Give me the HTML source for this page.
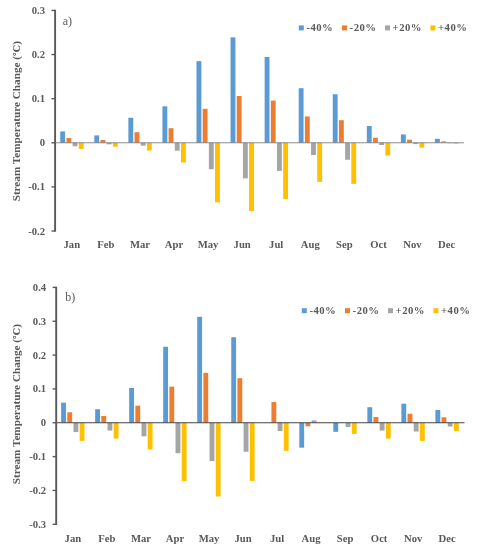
<!DOCTYPE html>
<html><head><meta charset="utf-8"><title>Stream Temperature Change</title>
<style>html,body{margin:0;padding:0;background:#fff;}svg{display:block;}</style></head>
<body>
<svg width="478" height="550" viewBox="0 0 478 550">
<rect width="478" height="550" fill="#ffffff"/>
<g id="chart-a">
<rect x="60.23" y="131.40" width="4.87" height="11.38" fill="#5B9BD5"/>
<rect x="66.41" y="138.06" width="4.87" height="4.72" fill="#ED7D31"/>
<rect x="72.59" y="142.78" width="4.87" height="3.48" fill="#A5A5A5"/>
<rect x="78.77" y="142.78" width="4.87" height="6.09" fill="#FFC000"/>
<rect x="94.30" y="135.37" width="4.87" height="7.41" fill="#5B9BD5"/>
<rect x="100.48" y="139.91" width="4.87" height="2.87" fill="#ED7D31"/>
<rect x="106.66" y="142.78" width="4.87" height="1.54" fill="#A5A5A5"/>
<rect x="112.84" y="142.78" width="4.87" height="3.97" fill="#FFC000"/>
<rect x="128.36" y="117.77" width="4.87" height="25.01" fill="#5B9BD5"/>
<rect x="134.54" y="132.19" width="4.87" height="10.59" fill="#ED7D31"/>
<rect x="140.72" y="142.78" width="4.87" height="2.91" fill="#A5A5A5"/>
<rect x="146.90" y="142.78" width="4.87" height="7.72" fill="#FFC000"/>
<rect x="162.43" y="106.30" width="4.87" height="36.48" fill="#5B9BD5"/>
<rect x="168.61" y="128.22" width="4.87" height="14.56" fill="#ED7D31"/>
<rect x="174.79" y="142.78" width="4.87" height="7.94" fill="#A5A5A5"/>
<rect x="180.97" y="142.78" width="4.87" height="19.72" fill="#FFC000"/>
<rect x="196.50" y="61.18" width="4.87" height="81.60" fill="#5B9BD5"/>
<rect x="202.68" y="108.82" width="4.87" height="33.96" fill="#ED7D31"/>
<rect x="208.86" y="142.78" width="4.87" height="26.47" fill="#A5A5A5"/>
<rect x="215.04" y="142.78" width="4.87" height="59.55" fill="#FFC000"/>
<rect x="230.56" y="37.36" width="4.87" height="105.42" fill="#5B9BD5"/>
<rect x="236.74" y="96.02" width="4.87" height="46.76" fill="#ED7D31"/>
<rect x="242.92" y="142.78" width="4.87" height="35.60" fill="#A5A5A5"/>
<rect x="249.10" y="142.78" width="4.87" height="68.37" fill="#FFC000"/>
<rect x="264.63" y="56.99" width="4.87" height="85.79" fill="#5B9BD5"/>
<rect x="270.81" y="100.57" width="4.87" height="42.21" fill="#ED7D31"/>
<rect x="276.99" y="142.78" width="4.87" height="28.10" fill="#A5A5A5"/>
<rect x="283.17" y="142.78" width="4.87" height="56.20" fill="#FFC000"/>
<rect x="298.70" y="88.22" width="4.87" height="54.56" fill="#5B9BD5"/>
<rect x="304.88" y="116.45" width="4.87" height="26.33" fill="#ED7D31"/>
<rect x="311.06" y="142.78" width="4.87" height="12.22" fill="#A5A5A5"/>
<rect x="317.24" y="142.78" width="4.87" height="39.08" fill="#FFC000"/>
<rect x="332.76" y="94.26" width="4.87" height="48.52" fill="#5B9BD5"/>
<rect x="338.94" y="120.20" width="4.87" height="22.58" fill="#ED7D31"/>
<rect x="345.12" y="142.78" width="4.87" height="16.98" fill="#A5A5A5"/>
<rect x="351.30" y="142.78" width="4.87" height="41.11" fill="#FFC000"/>
<rect x="366.83" y="126.02" width="4.87" height="16.76" fill="#5B9BD5"/>
<rect x="373.01" y="137.71" width="4.87" height="5.07" fill="#ED7D31"/>
<rect x="379.19" y="142.78" width="4.87" height="2.21" fill="#A5A5A5"/>
<rect x="385.37" y="142.78" width="4.87" height="12.79" fill="#FFC000"/>
<rect x="400.90" y="134.40" width="4.87" height="8.38" fill="#5B9BD5"/>
<rect x="407.08" y="139.69" width="4.87" height="3.09" fill="#ED7D31"/>
<rect x="413.26" y="142.78" width="4.87" height="1.32" fill="#A5A5A5"/>
<rect x="419.44" y="142.78" width="4.87" height="4.85" fill="#FFC000"/>
<rect x="434.96" y="138.81" width="4.87" height="3.97" fill="#5B9BD5"/>
<rect x="441.14" y="141.46" width="4.87" height="1.32" fill="#ED7D31"/>
<rect x="447.32" y="142.78" width="4.87" height="0.44" fill="#A5A5A5"/>
<rect x="453.50" y="142.78" width="4.87" height="0.88" fill="#FFC000"/>
<line x1="55.10" y1="142.78" x2="463.90" y2="142.78" stroke="#7f7f7f" stroke-width="0.9"/>
<line x1="55.10" y1="9.75" x2="55.10" y2="231.70" stroke="#595959" stroke-width="1.9"/>
<line x1="51.50" y1="10.45" x2="55.10" y2="10.45" stroke="#595959" stroke-width="1.4"/>
<text x="45.10" y="13.95" text-anchor="end" font-family="Liberation Serif, DejaVu Serif, Noto Serif CJK SC, serif" font-weight="bold" font-size="10.67" fill="#595959">0.3</text>
<line x1="51.50" y1="54.56" x2="55.10" y2="54.56" stroke="#595959" stroke-width="1.4"/>
<text x="45.10" y="58.06" text-anchor="end" font-family="Liberation Serif, DejaVu Serif, Noto Serif CJK SC, serif" font-weight="bold" font-size="10.67" fill="#595959">0.2</text>
<line x1="51.50" y1="98.67" x2="55.10" y2="98.67" stroke="#595959" stroke-width="1.4"/>
<text x="45.10" y="102.17" text-anchor="end" font-family="Liberation Serif, DejaVu Serif, Noto Serif CJK SC, serif" font-weight="bold" font-size="10.67" fill="#595959">0.1</text>
<line x1="51.50" y1="142.78" x2="55.10" y2="142.78" stroke="#595959" stroke-width="1.4"/>
<text x="45.10" y="146.28" text-anchor="end" font-family="Liberation Serif, DejaVu Serif, Noto Serif CJK SC, serif" font-weight="bold" font-size="10.67" fill="#595959">0</text>
<line x1="51.50" y1="186.89" x2="55.10" y2="186.89" stroke="#595959" stroke-width="1.4"/>
<text x="45.10" y="190.39" text-anchor="end" font-family="Liberation Serif, DejaVu Serif, Noto Serif CJK SC, serif" font-weight="bold" font-size="10.67" fill="#595959">-0.1</text>
<line x1="51.50" y1="231.00" x2="55.10" y2="231.00" stroke="#595959" stroke-width="1.4"/>
<text x="45.10" y="234.50" text-anchor="end" font-family="Liberation Serif, DejaVu Serif, Noto Serif CJK SC, serif" font-weight="bold" font-size="10.67" fill="#595959">-0.2</text>
<text x="71.83" y="247.60" text-anchor="middle" font-family="Liberation Serif, DejaVu Serif, Noto Serif CJK SC, serif" font-weight="bold" font-size="10.67" fill="#595959">Jan</text>
<text x="105.90" y="247.60" text-anchor="middle" font-family="Liberation Serif, DejaVu Serif, Noto Serif CJK SC, serif" font-weight="bold" font-size="10.67" fill="#595959">Feb</text>
<text x="139.97" y="247.60" text-anchor="middle" font-family="Liberation Serif, DejaVu Serif, Noto Serif CJK SC, serif" font-weight="bold" font-size="10.67" fill="#595959">Mar</text>
<text x="174.03" y="247.60" text-anchor="middle" font-family="Liberation Serif, DejaVu Serif, Noto Serif CJK SC, serif" font-weight="bold" font-size="10.67" fill="#595959">Apr</text>
<text x="208.10" y="247.60" text-anchor="middle" font-family="Liberation Serif, DejaVu Serif, Noto Serif CJK SC, serif" font-weight="bold" font-size="10.67" fill="#595959">May</text>
<text x="242.17" y="247.60" text-anchor="middle" font-family="Liberation Serif, DejaVu Serif, Noto Serif CJK SC, serif" font-weight="bold" font-size="10.67" fill="#595959">Jun</text>
<text x="276.23" y="247.60" text-anchor="middle" font-family="Liberation Serif, DejaVu Serif, Noto Serif CJK SC, serif" font-weight="bold" font-size="10.67" fill="#595959">Jul</text>
<text x="310.30" y="247.60" text-anchor="middle" font-family="Liberation Serif, DejaVu Serif, Noto Serif CJK SC, serif" font-weight="bold" font-size="10.67" fill="#595959">Aug</text>
<text x="344.37" y="247.60" text-anchor="middle" font-family="Liberation Serif, DejaVu Serif, Noto Serif CJK SC, serif" font-weight="bold" font-size="10.67" fill="#595959">Sep</text>
<text x="378.43" y="247.60" text-anchor="middle" font-family="Liberation Serif, DejaVu Serif, Noto Serif CJK SC, serif" font-weight="bold" font-size="10.67" fill="#595959">Oct</text>
<text x="412.50" y="247.60" text-anchor="middle" font-family="Liberation Serif, DejaVu Serif, Noto Serif CJK SC, serif" font-weight="bold" font-size="10.67" fill="#595959">Nov</text>
<text x="446.57" y="247.60" text-anchor="middle" font-family="Liberation Serif, DejaVu Serif, Noto Serif CJK SC, serif" font-weight="bold" font-size="10.67" fill="#595959">Dec</text>
<text transform="translate(19.7,121.20) rotate(-90)" text-anchor="middle" font-family="Liberation Serif, DejaVu Serif, Noto Serif CJK SC, serif" font-weight="bold" font-size="11.2" fill="#595959">Stream Temperature Change (<tspan font-size="9.4">℃</tspan>)</text>
<text x="62.8" y="25.4" font-family="Liberation Serif, serif" font-size="12" fill="#595959">a)</text>
<rect x="298.80" y="25.40" width="5" height="5" fill="#5B9BD5"/>
<text x="306.40" y="31.40" letter-spacing="0.5" font-family="Liberation Serif, DejaVu Serif, Noto Serif CJK SC, serif" font-weight="bold" font-size="10.67" fill="#595959">-40%</text>
<rect x="342.00" y="25.40" width="5" height="5" fill="#ED7D31"/>
<text x="349.60" y="31.40" letter-spacing="0.5" font-family="Liberation Serif, DejaVu Serif, Noto Serif CJK SC, serif" font-weight="bold" font-size="10.67" fill="#595959">-20%</text>
<rect x="385.00" y="25.40" width="5" height="5" fill="#A5A5A5"/>
<text x="392.60" y="31.40" letter-spacing="0.5" font-family="Liberation Serif, DejaVu Serif, Noto Serif CJK SC, serif" font-weight="bold" font-size="10.67" fill="#595959">+20%</text>
<rect x="430.40" y="25.40" width="5" height="5" fill="#FFC000"/>
<text x="438.00" y="31.40" letter-spacing="0.5" font-family="Liberation Serif, DejaVu Serif, Noto Serif CJK SC, serif" font-weight="bold" font-size="10.67" fill="#595959">+40%</text>
</g>
<g id="chart-b">
<rect x="61.12" y="402.67" width="4.86" height="20.10" fill="#5B9BD5"/>
<rect x="67.30" y="412.28" width="4.86" height="10.49" fill="#ED7D31"/>
<rect x="73.47" y="422.77" width="4.86" height="9.31" fill="#A5A5A5"/>
<rect x="79.64" y="422.77" width="4.86" height="18.11" fill="#FFC000"/>
<rect x="95.15" y="409.23" width="4.86" height="13.54" fill="#5B9BD5"/>
<rect x="101.32" y="416.00" width="4.86" height="6.77" fill="#ED7D31"/>
<rect x="107.49" y="422.77" width="4.86" height="7.78" fill="#A5A5A5"/>
<rect x="113.67" y="422.77" width="4.86" height="15.80" fill="#FFC000"/>
<rect x="129.17" y="387.91" width="4.86" height="34.86" fill="#5B9BD5"/>
<rect x="135.35" y="405.68" width="4.86" height="17.09" fill="#ED7D31"/>
<rect x="141.52" y="422.77" width="4.86" height="13.54" fill="#A5A5A5"/>
<rect x="147.69" y="422.77" width="4.86" height="26.74" fill="#FFC000"/>
<rect x="163.20" y="346.76" width="4.86" height="76.01" fill="#5B9BD5"/>
<rect x="169.37" y="386.66" width="4.86" height="36.11" fill="#ED7D31"/>
<rect x="175.54" y="422.77" width="4.86" height="30.46" fill="#A5A5A5"/>
<rect x="181.72" y="422.77" width="4.86" height="58.41" fill="#FFC000"/>
<rect x="197.22" y="316.84" width="4.86" height="105.93" fill="#5B9BD5"/>
<rect x="203.40" y="372.85" width="4.86" height="49.92" fill="#ED7D31"/>
<rect x="209.57" y="422.77" width="4.86" height="38.31" fill="#A5A5A5"/>
<rect x="215.74" y="422.77" width="4.86" height="73.71" fill="#FFC000"/>
<rect x="231.25" y="337.25" width="4.86" height="85.52" fill="#5B9BD5"/>
<rect x="237.42" y="378.17" width="4.86" height="44.60" fill="#ED7D31"/>
<rect x="243.59" y="422.77" width="4.86" height="29.00" fill="#A5A5A5"/>
<rect x="249.77" y="422.77" width="4.86" height="58.11" fill="#FFC000"/>
<rect x="271.45" y="401.96" width="4.86" height="20.81" fill="#ED7D31"/>
<rect x="277.62" y="422.77" width="4.86" height="8.29" fill="#A5A5A5"/>
<rect x="283.79" y="422.77" width="4.86" height="28.09" fill="#FFC000"/>
<rect x="299.30" y="422.77" width="4.86" height="24.91" fill="#5B9BD5"/>
<rect x="305.47" y="422.77" width="4.86" height="3.52" fill="#ED7D31"/>
<rect x="311.64" y="420.40" width="4.86" height="2.37" fill="#A5A5A5"/>
<rect x="317.82" y="422.43" width="4.86" height="0.34" fill="#FFC000"/>
<rect x="333.32" y="422.77" width="4.86" height="9.07" fill="#5B9BD5"/>
<rect x="345.67" y="422.77" width="4.86" height="4.30" fill="#A5A5A5"/>
<rect x="351.84" y="422.77" width="4.86" height="11.07" fill="#FFC000"/>
<rect x="367.35" y="407.24" width="4.86" height="15.53" fill="#5B9BD5"/>
<rect x="373.52" y="417.02" width="4.86" height="5.75" fill="#ED7D31"/>
<rect x="379.69" y="422.77" width="4.86" height="7.78" fill="#A5A5A5"/>
<rect x="385.87" y="422.77" width="4.86" height="15.80" fill="#FFC000"/>
<rect x="401.37" y="403.68" width="4.86" height="19.09" fill="#5B9BD5"/>
<rect x="407.55" y="413.74" width="4.86" height="9.04" fill="#ED7D31"/>
<rect x="413.72" y="422.77" width="4.86" height="8.80" fill="#A5A5A5"/>
<rect x="419.89" y="422.77" width="4.86" height="18.11" fill="#FFC000"/>
<rect x="435.40" y="409.98" width="4.86" height="12.79" fill="#5B9BD5"/>
<rect x="441.57" y="417.26" width="4.86" height="5.52" fill="#ED7D31"/>
<rect x="447.74" y="422.77" width="4.86" height="3.79" fill="#A5A5A5"/>
<rect x="453.92" y="422.77" width="4.86" height="8.29" fill="#FFC000"/>
<line x1="56.20" y1="422.77" x2="464.50" y2="422.77" stroke="#454545" stroke-width="1.1"/>
<line x1="56.20" y1="286.70" x2="56.20" y2="525.00" stroke="#595959" stroke-width="1.9"/>
<line x1="52.60" y1="287.40" x2="56.20" y2="287.40" stroke="#595959" stroke-width="1.4"/>
<text x="46.20" y="290.90" text-anchor="end" font-family="Liberation Serif, DejaVu Serif, Noto Serif CJK SC, serif" font-weight="bold" font-size="10.67" fill="#595959">0.4</text>
<line x1="52.60" y1="321.24" x2="56.20" y2="321.24" stroke="#595959" stroke-width="1.4"/>
<text x="46.20" y="324.74" text-anchor="end" font-family="Liberation Serif, DejaVu Serif, Noto Serif CJK SC, serif" font-weight="bold" font-size="10.67" fill="#595959">0.3</text>
<line x1="52.60" y1="355.09" x2="56.20" y2="355.09" stroke="#595959" stroke-width="1.4"/>
<text x="46.20" y="358.59" text-anchor="end" font-family="Liberation Serif, DejaVu Serif, Noto Serif CJK SC, serif" font-weight="bold" font-size="10.67" fill="#595959">0.2</text>
<line x1="52.60" y1="388.93" x2="56.20" y2="388.93" stroke="#595959" stroke-width="1.4"/>
<text x="46.20" y="392.43" text-anchor="end" font-family="Liberation Serif, DejaVu Serif, Noto Serif CJK SC, serif" font-weight="bold" font-size="10.67" fill="#595959">0.1</text>
<line x1="52.60" y1="422.77" x2="56.20" y2="422.77" stroke="#595959" stroke-width="1.4"/>
<text x="46.20" y="426.27" text-anchor="end" font-family="Liberation Serif, DejaVu Serif, Noto Serif CJK SC, serif" font-weight="bold" font-size="10.67" fill="#595959">0</text>
<line x1="52.60" y1="456.61" x2="56.20" y2="456.61" stroke="#595959" stroke-width="1.4"/>
<text x="46.20" y="460.11" text-anchor="end" font-family="Liberation Serif, DejaVu Serif, Noto Serif CJK SC, serif" font-weight="bold" font-size="10.67" fill="#595959">-0.1</text>
<line x1="52.60" y1="490.46" x2="56.20" y2="490.46" stroke="#595959" stroke-width="1.4"/>
<text x="46.20" y="493.96" text-anchor="end" font-family="Liberation Serif, DejaVu Serif, Noto Serif CJK SC, serif" font-weight="bold" font-size="10.67" fill="#595959">-0.2</text>
<line x1="52.60" y1="524.30" x2="56.20" y2="524.30" stroke="#595959" stroke-width="1.4"/>
<text x="46.20" y="527.80" text-anchor="end" font-family="Liberation Serif, DejaVu Serif, Noto Serif CJK SC, serif" font-weight="bold" font-size="10.67" fill="#595959">-0.3</text>
<text x="72.91" y="541.50" text-anchor="middle" font-family="Liberation Serif, DejaVu Serif, Noto Serif CJK SC, serif" font-weight="bold" font-size="10.67" fill="#595959">Jan</text>
<text x="106.94" y="541.50" text-anchor="middle" font-family="Liberation Serif, DejaVu Serif, Noto Serif CJK SC, serif" font-weight="bold" font-size="10.67" fill="#595959">Feb</text>
<text x="140.96" y="541.50" text-anchor="middle" font-family="Liberation Serif, DejaVu Serif, Noto Serif CJK SC, serif" font-weight="bold" font-size="10.67" fill="#595959">Mar</text>
<text x="174.99" y="541.50" text-anchor="middle" font-family="Liberation Serif, DejaVu Serif, Noto Serif CJK SC, serif" font-weight="bold" font-size="10.67" fill="#595959">Apr</text>
<text x="209.01" y="541.50" text-anchor="middle" font-family="Liberation Serif, DejaVu Serif, Noto Serif CJK SC, serif" font-weight="bold" font-size="10.67" fill="#595959">May</text>
<text x="243.04" y="541.50" text-anchor="middle" font-family="Liberation Serif, DejaVu Serif, Noto Serif CJK SC, serif" font-weight="bold" font-size="10.67" fill="#595959">Jun</text>
<text x="277.06" y="541.50" text-anchor="middle" font-family="Liberation Serif, DejaVu Serif, Noto Serif CJK SC, serif" font-weight="bold" font-size="10.67" fill="#595959">Jul</text>
<text x="311.09" y="541.50" text-anchor="middle" font-family="Liberation Serif, DejaVu Serif, Noto Serif CJK SC, serif" font-weight="bold" font-size="10.67" fill="#595959">Aug</text>
<text x="345.11" y="541.50" text-anchor="middle" font-family="Liberation Serif, DejaVu Serif, Noto Serif CJK SC, serif" font-weight="bold" font-size="10.67" fill="#595959">Sep</text>
<text x="379.14" y="541.50" text-anchor="middle" font-family="Liberation Serif, DejaVu Serif, Noto Serif CJK SC, serif" font-weight="bold" font-size="10.67" fill="#595959">Oct</text>
<text x="413.16" y="541.50" text-anchor="middle" font-family="Liberation Serif, DejaVu Serif, Noto Serif CJK SC, serif" font-weight="bold" font-size="10.67" fill="#595959">Nov</text>
<text x="447.19" y="541.50" text-anchor="middle" font-family="Liberation Serif, DejaVu Serif, Noto Serif CJK SC, serif" font-weight="bold" font-size="10.67" fill="#595959">Dec</text>
<text transform="translate(19.7,404.10) rotate(-90)" text-anchor="middle" font-family="Liberation Serif, DejaVu Serif, Noto Serif CJK SC, serif" font-weight="bold" font-size="11.2" fill="#595959">Stream Temperature Change (<tspan font-size="9.4">℃</tspan>)</text>
<text x="65.3" y="301.0" font-family="Liberation Serif, serif" font-size="12" fill="#595959">b)</text>
<rect x="301.80" y="308.20" width="5" height="5" fill="#5B9BD5"/>
<text x="309.40" y="314.20" letter-spacing="0.5" font-family="Liberation Serif, DejaVu Serif, Noto Serif CJK SC, serif" font-weight="bold" font-size="10.67" fill="#595959">-40%</text>
<rect x="345.00" y="308.20" width="5" height="5" fill="#ED7D31"/>
<text x="352.60" y="314.20" letter-spacing="0.5" font-family="Liberation Serif, DejaVu Serif, Noto Serif CJK SC, serif" font-weight="bold" font-size="10.67" fill="#595959">-20%</text>
<rect x="388.00" y="308.20" width="5" height="5" fill="#A5A5A5"/>
<text x="395.60" y="314.20" letter-spacing="0.5" font-family="Liberation Serif, DejaVu Serif, Noto Serif CJK SC, serif" font-weight="bold" font-size="10.67" fill="#595959">+20%</text>
<rect x="433.40" y="308.20" width="5" height="5" fill="#FFC000"/>
<text x="441.00" y="314.20" letter-spacing="0.5" font-family="Liberation Serif, DejaVu Serif, Noto Serif CJK SC, serif" font-weight="bold" font-size="10.67" fill="#595959">+40%</text>
</g>
</svg>
</body></html>
